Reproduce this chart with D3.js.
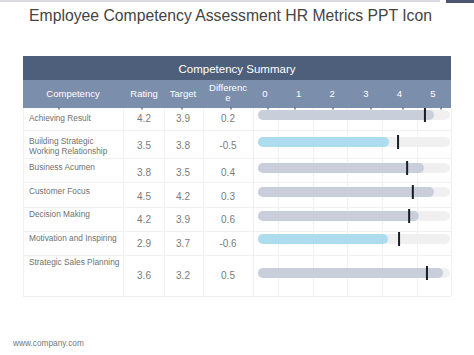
<!DOCTYPE html>
<html><head><meta charset="utf-8">
<script src="https://cdn.jsdelivr.net/npm/d3@7"></script>
<style>body{margin:0;background:#fff;}svg{display:block;font-family:Arial,"Liberation Sans",sans-serif;}</style>
</head><body><svg id="c" width="474" height="355"></svg>
<script>
// ---- data ----
const competencies = [["Achieving Result"],["Building Strategic","Working Relationship"],["Business Acumen"],["Customer Focus"],["Decision Making"],["Motivation and Inspiring"],["Strategic Sales Planning"]];
const ratings = [4.2, 3.5, 3.8, 4.5, 4.2, 2.9, 3.6];
const targets = [3.9, 3.8, 3.5, 4.2, 3.9, 3.7, 3.2];
const differences = ["0.2", "-0.5", "0.4", "0.3", "0.6", "-0.6", "0.5"];
// bar lengths and target markers as drawn on the gauge axis
const barValues = [5.03, 3.69, 4.73, 5.03, 4.58, 3.66, 5.30];
const markerValues = [4.76, 3.96, 4.23, 4.40, 4.29, 3.99, 4.82];
const axisTicks = [0, 1, 2, 3, 4, 5];
const columnHeaders = ["Competency", "Rating", "Target", "Differenc|e"];

// ---- layout ----
const svg = d3.select("#c");
const L = 23, R = 451;
const rowEdges = [108, 130, 158, 182, 207, 231, 255, 296];
const barCenters = [115, 142, 168, 192, 216, 239, 273];
const valueY = [118, 145, 172, 196, 219, 243, 275];
const labelY = [118, 141, 167, 191, 214, 238, 262];
const colLines = [123, 164, 203, 253, 278, 313, 347, 382, 417];
const colCenters = [73, 144, 183, 228];

const x = d3.scaleLinear().domain([0, 5]).range([265, 433]);
const trackStart = 258, trackEnd = 450;

// top strip
svg.append("rect").attr("x", 0).attr("y", 0).attr("width", 440).attr("height", 2).attr("fill", "#d9dbe0");
svg.append("rect").attr("x", 446).attr("y", 0).attr("width", 28).attr("height", 3).attr("fill", "#4a5670");

// title (fit to reference width)
const title = svg.append("text").attr("x", 230.5).attr("y", 20.5).attr("text-anchor", "middle")
  .attr("font-size", 16).attr("fill", "#444").text("Employee Competency Assessment HR Metrics PPT Icon");
const tw = title.node().getComputedTextLength();
title.attr("font-size", 16 * 403 / tw);

// headers
svg.append("rect").attr("x", L).attr("y", 56).attr("width", R - L).attr("height", 24).attr("fill", "#4e5f7c");
svg.append("rect").attr("x", L).attr("y", 80).attr("width", R - L).attr("height", 28).attr("fill", "#7b8eac");
svg.append("text").attr("x", (L + R) / 2).attr("y", 72.5).attr("text-anchor", "middle")
  .attr("font-size", 11.5).attr("fill", "#fff").text("Competency Summary");

columnHeaders.forEach((h, i) => {
  const parts = h.split("|");
  const t = svg.append("text").attr("text-anchor", "middle").attr("font-size", 9.5).attr("fill", "#fff");
  if (parts.length === 1) {
    t.attr("x", colCenters[i]).attr("y", 97).text(parts[0]);
  } else {
    t.append("tspan").attr("x", colCenters[i]).attr("y", 91).text(parts[0]);
    t.append("tspan").attr("x", colCenters[i]).attr("y", 101).text(parts[1]);
  }
});

// axis labels
svg.append("g").selectAll("text").data(axisTicks).join("text")
  .attr("x", d => x(d)).attr("y", 97).attr("text-anchor", "middle")
  .attr("font-size", 9.5).attr("fill", "#fff").text(d => d);

// header tick dots
[59, 142, 182, 231, 268, 295, 333, 371, 403, 441].forEach(px => {
  svg.append("rect").attr("x", px - 0.75).attr("y", 107).attr("width", 1.5).attr("height", 2.5).attr("fill", "#6a7a94");
});

// grid
const grid = svg.append("g").attr("stroke", "#eef0f3").attr("stroke-width", 1);
rowEdges.slice(1).forEach(y => grid.append("line").attr("x1", L).attr("x2", R).attr("y1", y + 0.5).attr("y2", y + 0.5));
[L, ...colLines, R].forEach(cx => grid.append("line").attr("x1", cx + 0.5).attr("x2", cx + 0.5).attr("y1", 108).attr("y2", 296));

// row text
competencies.forEach((lines, i) => {
  const t = svg.append("text").attr("font-size", 8.3).attr("fill", "#707070");
  lines.forEach((ln, j) => t.append("tspan").attr("x", 29).attr("y", labelY[i] + 3 + j * 10).text(ln));
  [ratings[i].toFixed(1), targets[i].toFixed(1), differences[i]].forEach((v, k) => {
    svg.append("text").attr("x", colCenters[k + 1]).attr("y", valueY[i] + 4)
      .attr("text-anchor", "middle").attr("font-size", 10).attr("fill", "#7a7a7a").text(v);
  });
});

// bars
const bh = 10;
const gb = svg.append("g");
gb.selectAll(".track").data(barValues).join("rect")
  .attr("x", trackStart).attr("y", (d, i) => barCenters[i] - bh / 2)
  .attr("width", trackEnd - trackStart).attr("height", bh).attr("rx", 5).attr("fill", "#f0f0f0");
gb.selectAll(".bar").data(barValues).join("rect")
  .attr("x", trackStart).attr("y", (d, i) => barCenters[i] - bh / 2)
  .attr("width", d => x(d) - trackStart).attr("height", bh).attr("rx", 5)
  .attr("fill", (d, i) => parseFloat(differences[i]) < 0 ? "#aedcef" : "#c8ceda");
gb.selectAll(".mk").data(markerValues).join("rect")
  .attr("x", d => x(d) - 1).attr("y", (d, i) => barCenters[i] - 7)
  .attr("width", 2).attr("height", 14).attr("fill", "#1a1d24");

// footer
svg.append("text").attr("x", 13).attr("y", 346).attr("font-size", 8.3).attr("fill", "#777").text("www.company.com");
</script></body></html>
